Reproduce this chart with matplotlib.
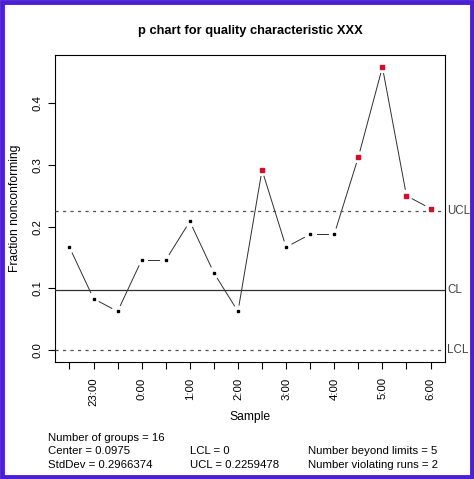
import matplotlib
matplotlib.use("Agg")
import matplotlib.pyplot as plt
import numpy as np
from matplotlib.patches import Rectangle

plt.rcParams['font.family'] = ['Liberation Sans', 'DejaVu Sans']

samples = np.arange(1, 17)
fraction = [8/48, 4/48, 3/48, 7/48, 7/48, 10/48, 6/48, 3/48,
            14/48, 8/48, 9/48, 9/48, 15/48, 22/48, 12/48, 11/48]
tick_labels = ['', '23:00', '', '0:00', '', '1:00', '', '2:00',
               '', '3:00', '', '4:00', '', '5:00', '', '6:00']
center = 0.0975
lcl = 0.0
ucl = 0.2259478
stddev = 0.2966374

W, H = 474, 479
fig = plt.figure(figsize=(W / 100, H / 100), dpi=100)
ax = fig.add_axes([55 / W, 1 - 362 / H, 390 / W, 307 / H])
ax.set_xlim(0.4, 16.6)
ax.set_ylim(-0.0194, 0.478)

# type="b" lines: segments with a gap around each point
fig.canvas.draw()
pts = ax.transData.transform(np.column_stack([samples, fraction]))
gap = 6.5
inv = ax.transData.inverted()
for i in range(len(pts) - 1):
    p0, p1 = pts[i], pts[i + 1]
    d = p1 - p0
    L = np.hypot(*d)
    if L <= 2 * gap:
        continue
    u = d / L
    a = inv.transform(p0 + u * gap)
    b = inv.transform(p1 - u * gap)
    ax.plot([a[0], b[0]], [a[1], b[1]], color='#303030', lw=0.7, zorder=2)

fr = np.array(fraction)
out = (fr > ucl) | (fr < lcl)
ax.plot(samples[~out], fr[~out], 's', color='black', ms=2.0, zorder=4)
ax.plot(samples[out], fr[out], 's', color='#d0102a', ms=3.0, zorder=4)

ax.axhline(center, color='#303030', lw=0.9, zorder=3)
ax.axhline(ucl, color='#505050', lw=0.9, ls=(0, (2.5, 3.5)), zorder=3)
ax.axhline(lcl, color='#505050', lw=0.9, ls=(0, (2.5, 3.5)), zorder=3)

for val, lab in [(ucl, 'UCL'), (center, 'CL'), (lcl, 'LCL')]:
    ax.text(1.005, val, lab, transform=ax.get_yaxis_transform(), ha='left',
            va='center', fontsize=8.3, color='#404040')

ax.set_xticks(samples)
ax.set_xticklabels(tick_labels, rotation=90, fontsize=8.2)
ax.set_yticks([0.0, 0.1, 0.2, 0.3, 0.4])
ax.set_yticklabels(['0.0', '0.1', '0.2', '0.3', '0.4'], rotation=90,
                   va='center', fontsize=8.2)
ax.tick_params(direction='out', length=5, width=0.8)
ax.tick_params(axis='x', pad=6)
ax.tick_params(axis='y', pad=4)
for s in ax.spines.values():
    s.set_linewidth(0.8)

ax.set_xlabel('Sample', fontsize=8.7, labelpad=4)
ax.set_ylabel('Fraction nonconforming', fontsize=8.7, labelpad=8)
ax.set_title('p chart for quality characteristic XXX', fontsize=9.3,
             fontweight='bold', pad=15)

fs = 8.2
fig.text(48 / W, 1 - 438 / H, 'Number of groups = 16', fontsize=fs, va='center')
fig.text(48 / W, 1 - 451 / H, 'Center = %s' % center, fontsize=fs, va='center')
fig.text(48 / W, 1 - 465 / H, 'StdDev = %s' % stddev, fontsize=fs, va='center')
fig.text(190 / W, 1 - 451 / H, 'LCL = %g' % lcl, fontsize=fs, va='center')
fig.text(190 / W, 1 - 465 / H, 'UCL = %s' % ucl, fontsize=fs, va='center')
fig.text(308 / W, 1 - 451 / H, 'Number beyond limits = %d' % out.sum(), fontsize=fs, va='center')
fig.text(308 / W, 1 - 465 / H, 'Number violating runs = 2', fontsize=fs, va='center')

# purple frame around the picture
fig.patches.append(Rectangle((1.5 / W, 2.5 / H), 1 - 4 / W, 1 - 4 / H,
                             transform=fig.transFigure, fill=False,
                             edgecolor='#4b1fd3', lw=3.5))

fig.savefig('out.png', dpi=100)
